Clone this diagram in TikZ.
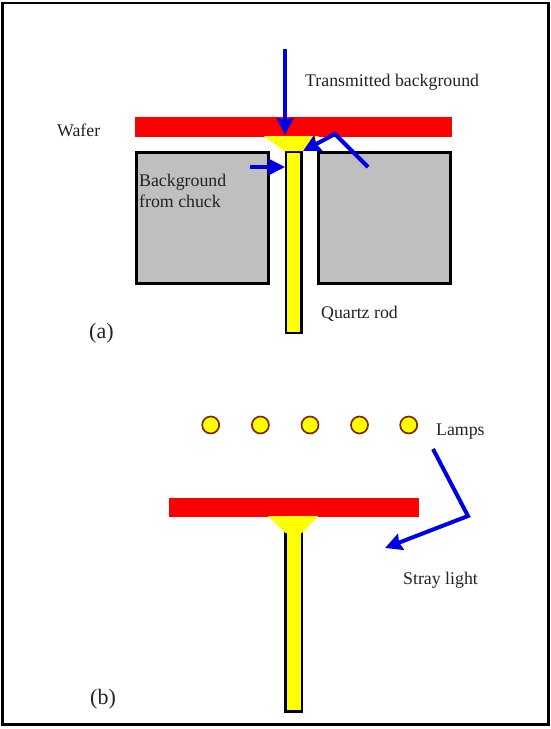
\documentclass[tikz,border=0pt]{standalone}
\usepackage{xcolor}
\usepackage{fontspec}
\setmainfont{Liberation Serif}
\usetikzlibrary{
  arrows.meta,
  positioning
}
\definecolor{isWafer}{HTML}{FF0000}
\definecolor{isRod}{HTML}{FFFF00}
\definecolor{isChuck}{HTML}{BFBFBF}
\definecolor{isRay}{HTML}{0000E6}
\definecolor{isLamp}{HTML}{7F2A00}
\definecolor{isText}{HTML}{222222}
\tikzset{
  wafer/.style={fill=isWafer, draw=none},
  chuck/.style={fill=isChuck, draw=black, line width=3pt},
  rod/.style={fill=isRod, draw=black, line width=2.5pt},
  cone/.style={fill=isRod, draw=none},
  lamp/.style={circle, fill=isRod, draw=isLamp, line width=1.7pt, minimum size=17pt, inner sep=0pt},
  ray/.style={-{Stealth[length=17pt, width=17pt, inset=2pt]}, line width=4pt, isRay, line join=miter},
  tag/.style={font=\fontsize{17.8}{21}\selectfont, text=isText, anchor=west, inner sep=0pt, align=left},
  parttag/.style={tag, font=\fontsize{22}{24}\selectfont}
}
\begin{document}
\begin{tikzpicture}[x=1pt, y=-1pt]
  \useasboundingbox (0,0) rectangle (551,729);
  \draw[line width=2.8pt] (2.5,3) rectangle (548.5,724.5);
  % part (a)
  \fill[wafer] (135,117) rectangle (452,137);
  \draw[chuck] (136,152) rectangle (268.5,283);
  \draw[chuck] (318,152) rectangle (450.5,283);
  \draw[rod] (286,152) rectangle (301.5,333);
  \fill[cone] (264,136) -- (319,136) -- (301.5,151) -- (284,151) -- cycle;
  \node[tag] (transmitted) at (305,82.5) {Transmitted background};
  \node[tag] (waferA) at (57,130.5) {Wafer};
  \node[tag, anchor=north west] (chucktext) at (139,174) {Background\\from chuck};
  \node[tag] (quartz) at (321,313.5) {Quartz rod};
  \node[parttag] (labelA) at (89,333) {(a)};
  \coordinate (t0) at (285,49);
  \coordinate (t1) at (285,135);
  \coordinate (c0) at (250,167);
  \coordinate (c1) at (285,167);
  \coordinate (s0) at (368,167);
  \coordinate (s1) at (335,134);
  \coordinate (s2) at (303,151);
  \draw[ray] (t0) -- (t1);
  \draw[ray] (c0) -- (c1);
  \draw[ray] (s0) -- (s1) -- (s2);
  % part (b)
  \foreach \x/\name in {210.7/l1, 260.4/l2, 310/l3, 359.5/l4, 408.7/l5}
    \node[lamp] (\name) at (\x,425) {};
  \fill[wafer] (169,498) rectangle (419,517);
  \draw[rod] (285.5,531) rectangle (302,711.5);
  \fill[cone] (268,516) -- (318,516) -- (302,533) -- (285.5,533) -- cycle;
  \node[tag] (lamps) at (436,431.5) {Lamps};
  \node[tag] (stray) at (403,580.5) {Stray light};
  \node[parttag] (labelB) at (90,699) {(b)};
  \coordinate (r0) at (433,449);
  \coordinate (r1) at (468,516);
  \coordinate (r2) at (385,548);
  \draw[ray] (r0) -- (r1) -- (r2);
\end{tikzpicture}
\end{document}
